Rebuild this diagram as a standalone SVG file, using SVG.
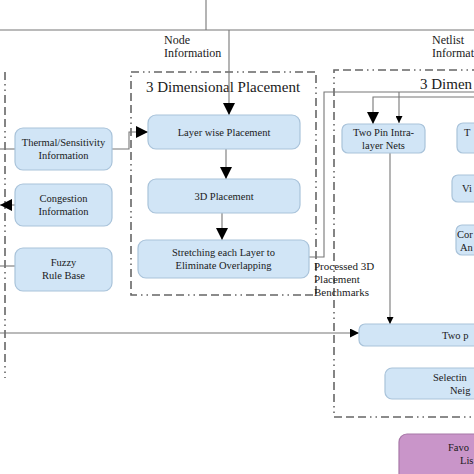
<svg xmlns="http://www.w3.org/2000/svg" width="474" height="474" viewBox="0 0 474 474">
<style>
text{font-family:"Liberation Serif","Times New Roman",serif;fill:#1a1a1a}
.n{fill:#d1e5f6;stroke:#a9c3da;stroke-width:1.2}
.p{fill:#c995c9;stroke:#a878a8;stroke-width:1.2}
.t{font-size:10.5px}
.c{text-anchor:middle}
.d{fill:none;stroke:#666;stroke-width:1.6;stroke-dasharray:8 4 1.5 4 1.5 4 8 4 8 4}
.l{fill:none;stroke:#777;stroke-width:1.1}
.lbl{font-size:12px}
.ttl{font-size:15px}
</style>
<defs>
<marker id="ab" viewBox="0 0 10 10" refX="10" refY="5" markerWidth="12" markerHeight="12" markerUnits="userSpaceOnUse" orient="auto"><path d="M0,0L10,5L0,10z" fill="#000"/></marker>
<marker id="am" viewBox="0 0 10 10" refX="10" refY="5" markerWidth="9" markerHeight="9" markerUnits="userSpaceOnUse" orient="auto"><path d="M0,0L10,5L0,10z" fill="#000"/></marker>
<marker id="as" viewBox="0 0 10 10" refX="10" refY="5" markerWidth="7" markerHeight="7" markerUnits="userSpaceOnUse" orient="auto"><path d="M0,0L10,5L0,10z" fill="#000"/></marker>
</defs>
<rect width="474" height="474" fill="#fff"/>
<g id="frames">
<line class="d" x1="5" y1="72" x2="5" y2="378"/>
<rect class="d" x="131" y="72" width="185" height="223"/>
<path class="d" d="M480,70H334V417H480"/>
</g>
<g id="titles">
<text class="ttl c" x="223" y="92">3 Dimensional Placement</text>
<text class="ttl" x="420" y="89">3 Dimen</text>
</g>
<g id="labels">
<text class="lbl" x="164" y="44">Node</text>
<text class="lbl" x="164" y="57">Information</text>
<text class="lbl" x="432" y="44">Netlist</text>
<text class="lbl" x="432" y="57">Informat</text>
<text style="font-size:11px" x="314" y="270">Processed 3D</text>
<text style="font-size:11px" x="314" y="283">Placement</text>
<text style="font-size:11px" x="314" y="296">Benchmarks</text>
</g>
<g id="connectors">
<path class="l" d="M206,0V30M0,30H474"/>
<path class="l" d="M229,30V115" marker-end="url(#ab)"/>
<path class="l" d="M226,149V179" marker-end="url(#ab)"/>
<path class="l" d="M222,213V240" marker-end="url(#ab)"/>
<path class="l" d="M112,149H129V132H148" marker-end="url(#ab)"/>
<path class="l" d="M15,149H0"/>
<path class="l" d="M15,205H0" marker-end="url(#ab)"/>
<path class="l" d="M15,266H0"/>
<path class="l" d="M309,257H324V92H474"/>
<path class="l" d="M399,92V123" marker-end="url(#as)"/>
<path class="l" d="M474,97H373V124" marker-end="url(#ab)"/>
<path class="l" d="M390,153V324" marker-end="url(#as)"/>
<path class="l" d="M0,333H359" marker-end="url(#am)"/>
</g>
<g id="thermal"><rect class="n" x="15" y="128" width="97" height="42" rx="8"/><text class="t c" x="63.5" y="146">Thermal/Sensitivity</text><text class="t c" x="63.5" y="159">Information</text></g>
<g id="congestion"><rect class="n" x="15" y="184" width="97" height="42" rx="8"/><text class="t c" x="63.5" y="202">Congestion</text><text class="t c" x="63.5" y="215">Information</text></g>
<g id="fuzzy"><rect class="n" x="15" y="248" width="97" height="43" rx="8"/><text class="t c" x="63.5" y="266">Fuzzy</text><text class="t c" x="63.5" y="279">Rule Base</text></g>
<g id="layerwise"><rect class="n" x="148" y="115" width="152" height="34" rx="8"/><text class="t c" x="224" y="136">Layer wise Placement</text></g>
<g id="placement3d"><rect class="n" x="148" y="179" width="152" height="34" rx="8"/><text class="t c" x="224" y="200">3D Placement</text></g>
<g id="stretching"><rect class="n" x="138" y="240" width="171" height="38" rx="8"/><text class="t c" x="223.5" y="256">Stretching each Layer to</text><text class="t c" x="223.5" y="269">Eliminate Overlapping</text></g>
<g id="twopinintra"><rect class="n" x="342" y="124" width="83" height="29" rx="6"/><text class="t c" x="383.5" y="136">Two Pin Intra-</text><text class="t c" x="383.5" y="149">layer Nets</text></g>
<g id="tbox"><rect class="n" x="457" y="123" width="30" height="30" rx="6"/><text class="t" x="464" y="136">T</text></g>
<g id="vibox"><rect class="n" x="452" y="175" width="35" height="27" rx="6"/><text class="t" x="462" y="192">Vi</text></g>
<g id="corbox"><rect class="n" x="456" y="225" width="31" height="30" rx="6"/><text class="t" x="457" y="238">Cor</text><text class="t" x="460" y="251">An</text></g>
<g id="twopin"><rect class="n" x="359" y="324" width="130" height="22" rx="6"/><text class="t" x="442" y="339">Two p</text></g>
<g id="selecting"><rect class="n" x="385" y="368" width="100" height="31" rx="7"/><text class="t" x="433" y="381">Selectin</text><text class="t" x="450" y="394">Neig</text></g>
<g id="favo"><rect class="p" x="399" y="434" width="90" height="50" rx="8"/><text class="t" x="448" y="451">Favo</text><text class="t" x="460" y="464">Lis</text></g>
</svg>
